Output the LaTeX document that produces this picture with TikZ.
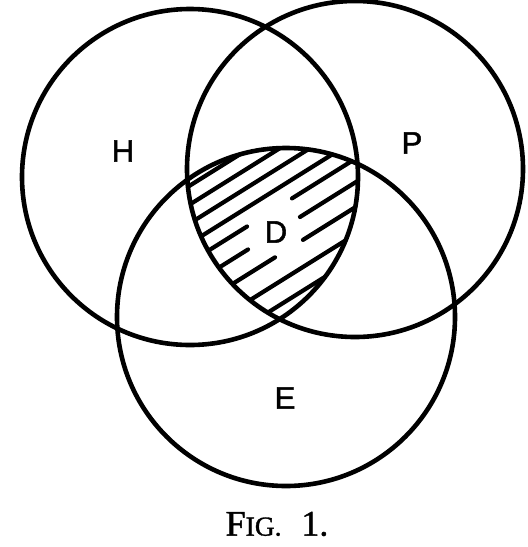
\documentclass[tikz,border=0pt]{standalone}
\usepackage{fontspec}
\newfontfamily\labelfont[BoldFont={Liberation Sans},BoldFeatures={FakeBold=1.6}]{Liberation Sans}
\newfontfamily\captfont[BoldFont={Liberation Serif},BoldFeatures={FakeBold=1.2}]{Liberation Serif}
\begin{document}
\begin{tikzpicture}[x=1pt,y=-1pt,
  circ/.style={line width=4.6pt},
  hatch/.style={line width=4.2pt, line cap=round},
  lab/.style={font=\labelfont\bfseries\fontsize{31}{31}\selectfont, inner sep=0pt},
  capt/.style={font=\captfont\bfseries\fontsize{36}{36}\selectfont, inner sep=0pt}]
\useasboundingbox (0,0) rectangle (528,547);
\coordinate (cH) at (190,177);
\coordinate (cP) at (355,169);
\coordinate (cE) at (286,317);
% hatching of the common region
\begin{scope}
  \clip (cH) circle (168pt);
  \clip (cP) circle (168pt);
  \clip (cE) circle (168pt);
  \foreach \c in {258,274,290,307,387,407}
    \draw[hatch] (150,{(\c-0.53*150)/0.848}) -- (400,{(\c-0.53*400)/0.848});
  \foreach \c/\a/\b in {323/247/292, 343/248/300, 364/275/303} {
    \draw[hatch] (150,{(\c-0.53*150)/0.848}) -- (\a,{(\c-0.53*\a)/0.848});
    \draw[hatch] (\b,{(\c-0.53*\b)/0.848}) -- (400,{(\c-0.53*400)/0.848});
  }
\end{scope}
\draw[circ] (cH) circle (168pt);
\draw[circ] (cP) circle (168pt);
\draw[circ] (cE) circle (169pt);
\node[lab] (h) at (123,151) {H};
\node[lab] (p) at (412,143) {P};
\node[lab] (d) at (276,232) {D};
\node[lab] (e) at (285,398) {E};
\node[capt] (cap) at (277,524) {F{\fontsize{27.5}{27.5}\selectfont IG.}\hspace{0.55em}1.};
\end{tikzpicture}
\end{document}
